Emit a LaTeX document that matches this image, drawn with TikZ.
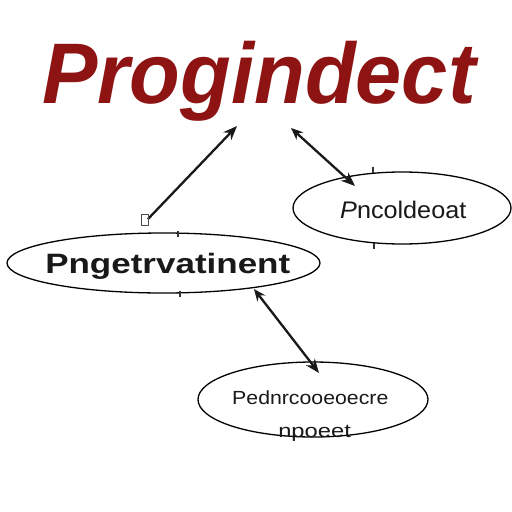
\documentclass[tikz,border=0pt]{standalone}
\usepackage{fontspec}
\setmainfont{Liberation Sans}
\usetikzlibrary{shapes.geometric,arrows.meta}
\definecolor{titlered}{HTML}{8E1414}
\tikzset{
  bubble/.style={draw=black, line width=1.3pt, shape=ellipse, inner sep=0pt},
  lbl/.style={inner sep=0pt, anchor=base west, text=black!90},
  conn/.style={draw=black!90, line width=2.3pt},
  tip/.style={-{Stealth[length=14pt,width=11pt]}},
  bothtip/.style={{Stealth[length=12pt,width=10pt]}-{Stealth[length=14pt,width=11pt]}},
  tick/.style={draw=black!80, line width=1.2pt}
}
\begin{document}
\begin{tikzpicture}[x=1pt,y=-1pt]
\useasboundingbox (0,0) rectangle (512,512);
\fill[white] (0,0) rectangle (512,512);
% title
\node[inner sep=0pt, anchor=base west, text=titlered, xscale=0.965] (title) at (42,103)
  {\fontsize{86}{90}\selectfont\bfseries\itshape Progindect};
% ellipses
\node[bubble, minimum width=218pt, minimum height=72pt] (R) at (402,208) {};
\node[bubble, minimum width=313pt, minimum height=60pt] (L) at (163.5,263) {};
\node[bubble, minimum width=230pt, minimum height=75pt] (B) at (313,399.5) {};
% labels
\node[lbl, xscale=1.05] (Rt) at (340,218) {\fontsize{24}{26}\selectfont\textit{P}ncoldeoat};
\node[lbl, xscale=1.25] (Lt) at (45,273) {\fontsize{28}{30}\selectfont\bfseries Pngetrvatinent};
\node[lbl, xscale=1.12] (Bt1) at (232,404) {\fontsize{19}{21}\selectfont Pednrcooeoecre};
\node[lbl, xscale=1.25] (Bt2) at (278,437) {\fontsize{19}{21}\selectfont npoeet};
% connector end points
\coordinate (a1s) at (148,219);
\coordinate (a1e) at (237,126);
\coordinate (a2s) at (291,128);
\coordinate (a2e) at (355,186);
\coordinate (a3s) at (254,289);
\coordinate (a3e) at (319,373);
% connectors
\draw[conn, tip] (a1s) -- (a1e);
\draw[conn, bothtip] (a2s) -- (a2e);
\draw[conn, bothtip] (a3s) -- (a3e);
% small marks
\draw[tick] (373,167) -- (373,173);
\draw[tick] (374,243) -- (374,249);
\draw[tick] (178,231) -- (178,237);
\draw[tick] (180,291) -- (180,297);
\draw[draw=black!70, line width=0.8pt] (141,214) rectangle (148,225);
\end{tikzpicture}
\end{document}
